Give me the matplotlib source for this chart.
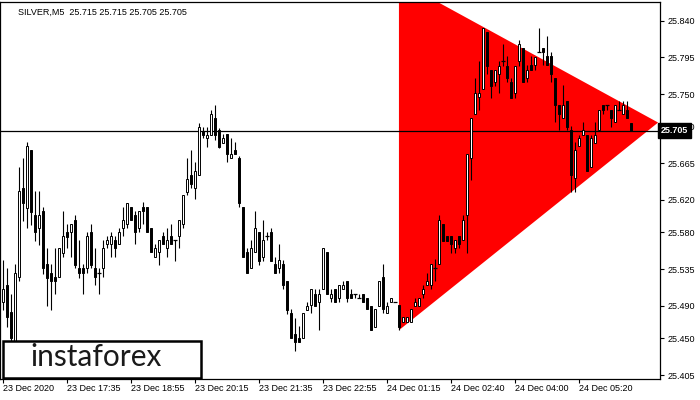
import matplotlib
matplotlib.use("Agg")
import matplotlib.pyplot as plt
from matplotlib.patches import Polygon, Rectangle

# ---- data (SILVER, M5) ----
opens = [25.495, 25.516, 25.482, 25.447, 25.525, 25.635, 25.610, 25.681, 25.601, 25.585,
         25.606, 25.541, 25.530, 25.525, 25.525, 25.555, 25.580, 25.580, 25.595, 25.536,
         25.536, 25.536, 25.580, 25.536, 25.530, 25.536, 25.566, 25.566, 25.571, 25.566,
         25.585, 25.590, 25.611, 25.601, 25.585, 25.611, 25.611, 25.585, 25.550, 25.556,
         25.576, 25.561, 25.576, 25.571, 25.576, 25.590, 25.630, 25.651, 25.635, 25.651,
         25.705, 25.696, 25.700, 25.720, 25.706, 25.690, 25.701, 25.671, 25.681, 25.671,
         25.611, 25.556, 25.536, 25.556, 25.580, 25.550, 25.576, 25.580, 25.541, 25.536,
         25.541, 25.520, 25.481, 25.455, 25.450, 25.450, 25.485, 25.491, 25.505, 25.495,
         25.510, 25.556, 25.500, 25.510, 25.500, 25.510, 25.520, 25.505, 25.505, 25.500,
         25.505, 25.500, 25.490, 25.464, 25.490, 25.525, 25.481, 25.495, 25.495, 25.491,
         25.470, 25.470, 25.470, 25.490, 25.490, 25.504, 25.515, 25.515, 25.536, 25.541,
         25.590, 25.576, 25.576, 25.561, 25.576, 25.571, 25.601, 25.671, 25.725, 25.746,
         25.756, 25.826, 25.780, 25.765, 25.775, 25.790, 25.785, 25.765, 25.751, 25.790,
         25.806, 25.770, 25.786, 25.786, 25.801, 25.806, 25.797, 25.797, 25.770, 25.736,
         25.721, 25.741, 25.706, 25.647, 25.686, 25.700, 25.700, 25.661, 25.690, 25.706,
         25.736, 25.736, 25.731, 25.716, 25.731, 25.725, 25.731, 25.715]
highs = [25.546, 25.536, 25.505, 25.541, 25.661, 25.671, 25.691, 25.681, 25.631, 25.631,
         25.611, 25.561, 25.541, 25.561, 25.561, 25.606, 25.590, 25.590, 25.601, 25.571,
         25.541, 25.581, 25.590, 25.561, 25.536, 25.571, 25.576, 25.581, 25.576, 25.586,
         25.611, 25.616, 25.611, 25.606, 25.606, 25.617, 25.611, 25.585, 25.566, 25.571,
         25.581, 25.586, 25.591, 25.571, 25.595, 25.626, 25.672, 25.681, 25.667, 25.715,
         25.710, 25.710, 25.730, 25.737, 25.708, 25.701, 25.701, 25.696, 25.691, 25.674,
         25.611, 25.561, 25.571, 25.606, 25.580, 25.595, 25.580, 25.586, 25.550, 25.566,
         25.546, 25.520, 25.486, 25.475, 25.465, 25.481, 25.495, 25.510, 25.510, 25.510,
         25.561, 25.556, 25.510, 25.510, 25.516, 25.520, 25.520, 25.510, 25.505, 25.505,
         25.505, 25.500, 25.490, 25.486, 25.520, 25.541, 25.495, 25.500, 25.495, 25.491,
         25.476, 25.476, 25.486, 25.500, 25.500, 25.516, 25.530, 25.541, 25.548, 25.601,
         25.590, 25.576, 25.576, 25.571, 25.576, 25.601, 25.676, 25.720, 25.770, 25.790,
         25.831, 25.826, 25.780, 25.780, 25.790, 25.811, 25.797, 25.770, 25.785, 25.816,
         25.806, 25.786, 25.797, 25.796, 25.831, 25.806, 25.821, 25.801, 25.770, 25.736,
         25.761, 25.741, 25.711, 25.691, 25.700, 25.716, 25.700, 25.700, 25.716, 25.731,
         25.736, 25.736, 25.731, 25.736, 25.741, 25.741, 25.741, 25.715]
lows = [25.485, 25.464, 25.446, 25.446, 25.520, 25.594, 25.585, 25.589, 25.570, 25.565,
        25.529, 25.490, 25.485, 25.504, 25.525, 25.550, 25.561, 25.550, 25.536, 25.524,
        25.504, 25.530, 25.536, 25.515, 25.504, 25.525, 25.561, 25.550, 25.550, 25.566,
        25.576, 25.585, 25.595, 25.566, 25.580, 25.590, 25.580, 25.556, 25.550, 25.540,
        25.566, 25.550, 25.566, 25.545, 25.561, 25.586, 25.626, 25.635, 25.621, 25.651,
        25.696, 25.685, 25.700, 25.694, 25.684, 25.690, 25.666, 25.671, 25.676, 25.611,
        25.550, 25.530, 25.536, 25.556, 25.540, 25.545, 25.571, 25.545, 25.530, 25.530,
        25.510, 25.480, 25.450, 25.435, 25.445, 25.450, 25.485, 25.481, 25.490, 25.460,
        25.510, 25.505, 25.495, 25.495, 25.495, 25.510, 25.495, 25.500, 25.500, 25.500,
        25.495, 25.486, 25.460, 25.464, 25.490, 25.481, 25.481, 25.495, 25.495, 25.460,
        25.470, 25.470, 25.470, 25.490, 25.490, 25.499, 25.515, 25.510, 25.520, 25.541,
        25.570, 25.570, 25.555, 25.555, 25.561, 25.571, 25.555, 25.645, 25.725, 25.731,
        25.756, 25.775, 25.745, 25.760, 25.751, 25.785, 25.765, 25.745, 25.745, 25.785,
        25.765, 25.765, 25.780, 25.780, 25.801, 25.786, 25.786, 25.765, 25.716, 25.706,
        25.721, 25.706, 25.630, 25.630, 25.686, 25.700, 25.655, 25.661, 25.690, 25.706,
        25.725, 25.731, 25.710, 25.716, 25.731, 25.725, 25.720, 25.705]
closes = [25.510, 25.476, 25.450, 25.530, 25.631, 25.616, 25.686, 25.605, 25.580, 25.601,
          25.536, 25.524, 25.520, 25.520, 25.561, 25.576, 25.575, 25.590, 25.540, 25.530,
          25.530, 25.576, 25.540, 25.525, 25.530, 25.561, 25.571, 25.576, 25.561, 25.581,
          25.595, 25.616, 25.595, 25.580, 25.606, 25.606, 25.580, 25.556, 25.561, 25.571,
          25.566, 25.571, 25.566, 25.571, 25.595, 25.626, 25.646, 25.640, 25.655, 25.710,
          25.700, 25.700, 25.725, 25.700, 25.685, 25.696, 25.676, 25.676, 25.676, 25.616,
          25.550, 25.530, 25.561, 25.585, 25.545, 25.571, 25.576, 25.545, 25.530, 25.546,
          25.515, 25.485, 25.450, 25.445, 25.445, 25.481, 25.490, 25.510, 25.490, 25.505,
          25.561, 25.505, 25.505, 25.495, 25.516, 25.516, 25.500, 25.500, 25.505, 25.500,
          25.495, 25.486, 25.460, 25.486, 25.520, 25.486, 25.490, 25.500, 25.495, 25.464,
          25.476, 25.476, 25.486, 25.495, 25.500, 25.510, 25.520, 25.541, 25.536, 25.595,
          25.570, 25.570, 25.566, 25.571, 25.566, 25.595, 25.676, 25.720, 25.751, 25.751,
          25.831, 25.785, 25.760, 25.780, 25.785, 25.790, 25.770, 25.745, 25.785, 25.811,
          25.765, 25.780, 25.780, 25.796, 25.801, 25.801, 25.786, 25.775, 25.736, 25.725,
          25.736, 25.710, 25.651, 25.681, 25.696, 25.706, 25.655, 25.696, 25.700, 25.731,
          25.731, 25.736, 25.720, 25.736, 25.731, 25.736, 25.720, 25.705]

# triangle pattern vertices (bar index, price)
tri_bars = [99, 99, 163.8]
tri_prices = [25.889, 25.460, 25.715]

current_price = 25.705
title_text = "SILVER,M5  25.715 25.715 25.705 25.705"

price_ticks = [25.840, 25.795, 25.750, 25.710, 25.665, 25.620, 25.580,
               25.535, 25.490, 25.450, 25.405]
date_tick_bars = [0, 16, 32, 48, 64, 80, 96, 112, 128, 144]
date_labels = ["23 Dec 2020", "23 Dec 17:35", "23 Dec 18:55", "23 Dec 20:15",
               "23 Dec 21:35", "23 Dec 22:55", "24 Dec 01:15", "24 Dec 02:40",
               "24 Dec 04:00", "24 Dec 05:20"]

FONT = "Liberation Sans"

fig = plt.figure(figsize=(7, 4), dpi=100)
ax = fig.add_axes([0.0, 21 / 400, 659.7 / 700, 377 / 400])
ax.set_xlim(-0.75, 164.2)
ax.set_ylim(25.4001, 25.863)

# triangle
ax.add_patch(Polygon(list(zip(tri_bars, tri_prices)), closed=True,
                     facecolor="#ff0000", edgecolor="none", zorder=1))
ax.axhline(current_price, color="black", lw=0.9, zorder=2)

# candles
bw = 0.5
xs = list(range(len(opens)))
ax.vlines(xs, lows, highs, color="black", lw=0.8, zorder=3)
for x, o, h, l, c in zip(xs, opens, highs, lows, closes):
    if abs(c - o) < 0.0005:
        ax.hlines(o, x - bw / 2 - 0.15, x + bw / 2 + 0.15, color="black",
                  lw=0.9, zorder=4)
        continue
    face = "white" if c > o else "black"
    ax.add_patch(Rectangle((x - bw / 2, min(o, c)), bw, abs(c - o),
                           facecolor=face, edgecolor="black", lw=0.7, zorder=4))

for sp in ax.spines.values():
    sp.set_color("black")
    sp.set_linewidth(0.9)

ax.yaxis.tick_right()
ax.set_yticks(price_ticks)
ax.set_yticklabels([f"{v:.3f}" for v in price_ticks], fontsize=6.5, family=FONT)
ax.tick_params(axis="y", length=3, width=0.8, pad=3)
ax.set_xticks(date_tick_bars)
ax.set_xticklabels(date_labels, fontsize=6.5, family=FONT, ha="left")
ax.tick_params(axis="x", length=3, width=0.8, pad=0.5)

# current price label (covers the 25.710 tick label, as in the terminal)
ax.text(1.002, current_price, f"{current_price:.3f}", transform=ax.get_yaxis_transform(),
        ha="left", va="center", fontsize=6.5, family=FONT, color="white",
        fontweight="bold",
        bbox=dict(boxstyle="square,pad=0.35", facecolor="black", edgecolor="black"),
        clip_on=False, zorder=10)

fig.text(18 / 700, 1 - 12 / 400, title_text, ha="left", va="center",
         fontsize=6.5, family=FONT, color="black")

# logo box
fig.patches.append(Rectangle((3 / 700, 22 / 400), 198 / 700, 37 / 400,
                             transform=fig.transFigure, facecolor="white",
                             edgecolor="black", lw=1.8, zorder=20))
fig.text(30 / 700, 1 - 357 / 400, "instaforex", ha="left", va="center",
         fontsize=21.5, family=["Lato", "DejaVu Sans"], fontweight="normal",
         color="#1a1a1a", zorder=21)

fig.savefig("out.png", dpi=100)
